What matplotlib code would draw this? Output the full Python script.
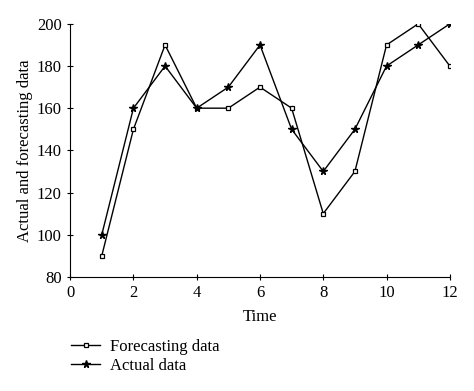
import matplotlib
matplotlib.use("Agg")
import matplotlib.pyplot as plt

time = [1, 2, 3, 4, 5, 6, 7, 8, 9, 10, 11, 12]
forecasting = [90, 150, 190, 160, 160, 170, 160, 110, 130, 190, 200, 180]
actual = [100, 160, 180, 160, 170, 190, 150, 130, 150, 180, 190, 200]

plt.rcParams['font.family'] = ['Liberation Serif', 'DejaVu Serif']
plt.rcParams['font.size'] = 12

fig = plt.figure(figsize=(4.74, 3.91), dpi=100)
ax = fig.add_axes([0.148, 0.292, 0.801, 0.647])

l1, = ax.plot(time, forecasting, color='black', lw=1.0, marker='s', ms=3.5,
              mfc='white', mec='black', mew=0.9)
l2, = ax.plot(time, actual, color='black', lw=1.0, marker='*', ms=5.5,
              mfc='black', mec='black')

ax.set_xlim(0, 12)
ax.set_ylim(80, 200)
ax.set_xticks(range(0, 13, 2))
ax.set_yticks(range(80, 201, 20))
ax.spines['top'].set_visible(False)
ax.spines['right'].set_visible(False)
ax.tick_params(direction='inout', length=4, width=0.8, labelsize=12, pad=4)
ax.set_xlabel('Time', fontsize=12, labelpad=6)
ax.set_ylabel('Actual and forecasting data', fontsize=12, labelpad=3)

fig.legend([l1, l2], ['Forecasting data', 'Actual data'], loc='upper left',
           bbox_to_anchor=(0.133, 0.155), frameon=False, fontsize=12,
           handlelength=1.7, labelspacing=0.2, borderpad=0, handletextpad=0.6)

fig.savefig('out.png', dpi=100)
